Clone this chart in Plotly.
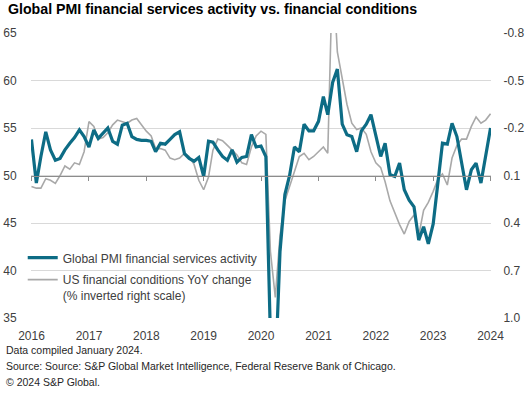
import plotly.graph_objects as go
import pandas as pd

# Monthly dates Jan 2016 - Jan 2024
dates = pd.date_range("2016-01-01", "2024-01-01", freq="MS")

# Global PMI financial services activity (left scale)
pmi = [
    53.8, 49.2, 52.0, 54.6, 52.7, 51.6, 51.8, 52.7, 53.4, 54.0, 54.8, 54.1,  # 2016
    53.0, 54.8, 53.9, 54.4, 55.0, 53.6, 53.3, 55.3, 55.5, 54.1, 53.8, 53.7,  # 2017
    53.7, 53.6, 52.5, 53.4, 53.3, 53.8, 54.3, 54.6, 52.3, 51.8, 51.5, 51.9,  # 2018
    49.9, 53.6, 53.5, 52.7, 52.0, 51.6, 52.7, 51.4, 51.9, 52.0, 54.3, 53.0,  # 2019
    53.1, 52.0, 33.0, 29.0, 42.0, 48.0, 50.0, 53.0, 52.5, 55.4, 54.7, 54.7,  # 2020
    55.7, 58.3, 56.4, 59.8, 61.2, 55.4, 54.3, 54.1, 52.5, 54.7, 55.4, 56.4,  # 2021
    54.1, 52.0, 53.4, 50.1, 49.9, 51.3, 48.5, 47.4, 46.7, 43.2, 44.6, 42.8,  # 2022
    44.9, 49.5, 53.4, 53.3, 55.5, 54.1, 51.3, 48.5, 50.6, 51.3, 49.2, 52.3,  # 2023
    55.0,                                                                    # 2024
]

# US financial conditions YoY change (right scale, inverted)
fci = [
    0.17, 0.18, 0.18, 0.12, 0.13, 0.15, 0.10, 0.04, 0.06, 0.02, 0.03, -0.05,  # 2016
    -0.24, -0.21, -0.13, -0.14, -0.17, -0.22, -0.25, -0.24, -0.23, -0.25, -0.26, -0.22,  # 2017
    -0.18, -0.15, -0.07, -0.07, -0.06, -0.01, 0.00, -0.01, -0.04, -0.02, 0.03, 0.13,  # 2018
    0.19, 0.11, -0.06, -0.13, -0.12, -0.09, -0.06, -0.03, 0.02, 0.03, -0.08, -0.15,  # 2019
    -0.18, -0.16, 0.58, 0.87, 0.48, 0.26, 0.17, 0.07, -0.02, -0.04, 0.00, -0.02,  # 2020
    -0.05, -0.08, -0.04, -1.22, -0.68, -0.50, -0.35, -0.23, -0.19, -0.20, -0.16, -0.05,  # 2021
    0.02, 0.05, 0.14, 0.26, 0.34, 0.41, 0.47, 0.39, 0.35, 0.48, 0.32, 0.27,  # 2022
    0.20, 0.12, 0.09, 0.16, -0.01, -0.09, -0.13, -0.13, -0.21, -0.27, -0.23, -0.25,  # 2023
    -0.29,                                                                   # 2024
]

years = [2016, 2017, 2018, 2019, 2020, 2021, 2022, 2023, 2024]
left_ticks = [35, 40, 45, 50, 55, 60, 65]
right_ticks = [-0.8, -0.5, -0.2, 0.1, 0.4, 0.7, 1.0]
right_ticktext = ["-0.8", "-0.5", "-0.2", "0.1", "0.4", "0.7", "1.0"]

TEAL = "#0d6c85"
GREY = "#a9a9a9"
FONT = "Arial, Liberation Sans, sans-serif"

fig = go.Figure()

fig.add_trace(go.Scatter(
    x=dates, y=fci, mode="lines", name="US financial conditions YoY change<br>(% inverted right scale)",
    line=dict(color=GREY, width=1.6), xaxis="x", yaxis="y", legendrank=2, legendgroup="b",
))
fig.add_trace(go.Scatter(
    x=dates, y=pmi, mode="lines", name="Global PMI financial services activity",
    line=dict(color=TEAL, width=3.2), xaxis="x2", yaxis="y2", legendrank=1, legendgroup="a",
))

year_dates = [pd.Timestamp(f"{y}-01-01") for y in years]
xrange = [pd.Timestamp("2015-12-29"), pd.Timestamp("2024-01-04")]

fig.update_layout(
    width=530, height=394,
    margin=dict(l=31, r=39, t=33, b=76),
    paper_bgcolor="white", plot_bgcolor="white",
    font=dict(family=FONT, size=12, color="#404040"),
    title=dict(
        text="<b>Global PMI financial services activity vs. financial conditions</b>",
        font=dict(family=FONT, size=14.2, color="#000000"),
        xref="container", x=0.015, xanchor="left",
        yref="container", y=0.99, yanchor="top",
    ),
    showlegend=True,
    legend=dict(
        x=-0.018, y=0.262, xanchor="left", yanchor="top",
        bgcolor="rgba(0,0,0,0)", font=dict(family=FONT, size=12, color="#404040"),
        valign="top", traceorder="grouped", tracegroupgap=3,
    ),
    xaxis=dict(
        type="date", range=xrange, automargin=False,
        tickvals=year_dates, ticktext=[str(y) for y in years],
        showgrid=False, zeroline=False, showline=False,
        ticks="outside", ticklen=7, tickcolor="rgba(0,0,0,0)",
        tickfont=dict(size=12, color="#404040"),
    ),
    xaxis2=dict(
        type="date", overlaying="x", matches="x", anchor="free", position=0.5,
        automargin=False,
        tickvals=year_dates, showticklabels=False,
        showgrid=False, zeroline=False,
        showline=True, linecolor="#8c8c8c", linewidth=1,
        ticks="outside", ticklen=4, tickcolor="#8c8c8c", tickwidth=1,
    ),
    yaxis=dict(
        side="right", range=[1.0, -0.8], autorange=False, automargin=False,
        tickvals=right_ticks, ticktext=right_ticktext,
        showgrid=True, gridcolor="#d9d9d9", gridwidth=1,
        zeroline=False, showline=False,
        ticks="outside", ticklen=9, tickcolor="rgba(0,0,0,0)",
        tickfont=dict(size=12, color="#404040"),
    ),
    yaxis2=dict(
        side="left", overlaying="y", anchor="x2", range=[35, 65], automargin=False,
        tickvals=left_ticks, showgrid=False, zeroline=False, showline=False,
        ticks="outside", ticklen=11, tickcolor="rgba(0,0,0,0)",
        tickfont=dict(size=12, color="#404040"),
    ),
)

footer = [
    "Data compiled January 2024.",
    "Source: Source: S&P Global Market Intelligence, Federal Reserve Bank of Chicago.",
    "© 2024 S&P Global.",
]
for i, line in enumerate(footer):
    fig.add_annotation(
        text=line, xref="paper", yref="paper", x=0, y=0,
        xanchor="left", yanchor="middle", xshift=-27, yshift=-(32 + 16 * i),
        showarrow=False, font=dict(family=FONT, size=10.5, color="#262626"),
    )

fig.write_html(
    "out.html",
    config={"displayModeBar": False},
    post_script="document.body.style.margin='0px';",
)
